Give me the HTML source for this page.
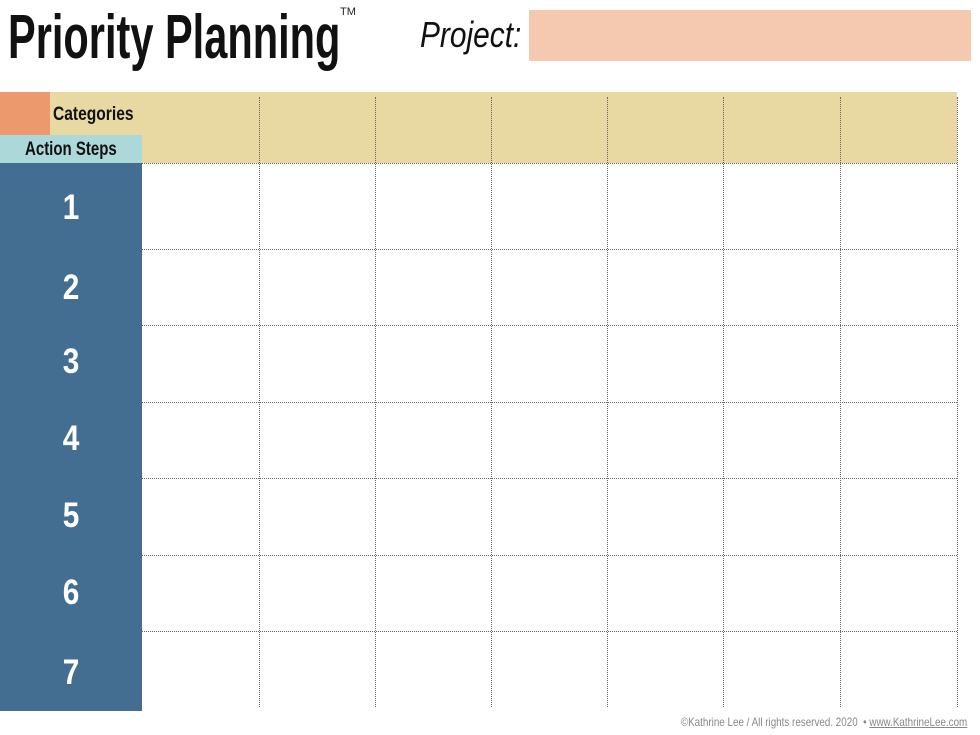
<!DOCTYPE html>
<html><head><style>
body{margin:0;width:980px;height:735px;background:#fff;position:relative;overflow:hidden;font-family:"Liberation Sans",sans-serif}
.a{position:absolute;white-space:nowrap}
.v{position:absolute;top:97px;height:610px;border-left:1px dotted #666;width:0}
.h{position:absolute;left:142px;width:815px;border-top:1px dotted #666;height:0}
.n{position:absolute;left:0;width:142px;text-align:center;color:#fff;font-weight:bold;font-size:35px;transform:scaleX(0.85)}
</style></head><body>
<div class="a" style="left:8px;top:2px;font-size:62px;font-weight:bold;color:#111;transform:scaleX(0.67);transform-origin:left top">Priority Planning</div>
<div class="a" style="left:340px;top:6px;font-size:11px;color:#222">TM</div>
<div class="a" style="left:420px;top:14px;font-size:36px;font-style:italic;color:#111;transform:scaleX(0.83);transform-origin:left top">Project:</div>
<div class="a" style="left:529px;top:10px;width:442px;height:51px;background:#f5c9b0"></div>
<div class="a" style="left:0;top:92px;width:957px;height:71px;background:#e8d9a2"></div>
<div class="a" style="left:0;top:92px;width:50px;height:43px;background:#ec9a6d"></div>
<div class="a" style="left:53px;top:104px;font-size:19px;font-weight:bold;color:#111;transform:scaleX(0.82);transform-origin:left top">Categories</div>
<div class="a" style="left:0;top:135px;width:142px;height:28px;background:#acd8da"></div>
<div class="a" style="left:25px;top:139px;font-size:19px;font-weight:bold;color:#111;transform:scaleX(0.79);transform-origin:left top">Action Steps</div>
<div class="a" style="left:0;top:163px;width:142px;height:548px;background:#436e92"></div>
<div class="n" style="top:188px">1</div>
<div class="n" style="top:268px">2</div>
<div class="n" style="top:342px">3</div>
<div class="n" style="top:419px">4</div>
<div class="n" style="top:496px">5</div>
<div class="n" style="top:573px">6</div>
<div class="n" style="top:653px">7</div>
<div class="v" style="left:259px"></div><div class="v" style="left:375px"></div><div class="v" style="left:491px"></div><div class="v" style="left:607px"></div><div class="v" style="left:723px"></div><div class="v" style="left:840px"></div><div class="v" style="left:957px"></div>
<div class="h" style="top:163px"></div><div class="h" style="top:249px"></div><div class="h" style="top:325px"></div><div class="h" style="top:402px"></div><div class="h" style="top:478px"></div><div class="h" style="top:555px"></div><div class="h" style="top:631px"></div>
<div class="a" style="right:13px;top:715px;font-size:12px;color:#888;transform:scaleX(0.82);transform-origin:right top">©Kathrine Lee / All rights reserved. 2020 &nbsp;• <u>www.KathrineLee.com</u></div>
</body></html>
